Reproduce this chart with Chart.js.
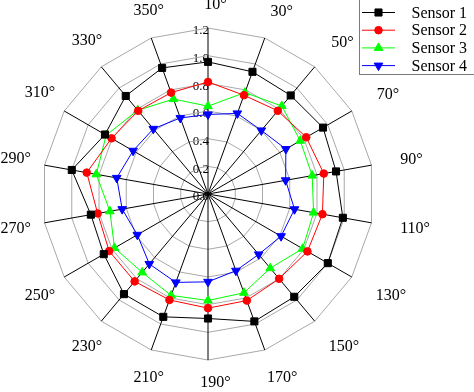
<!DOCTYPE html>
<html>
<head>
<meta charset="utf-8">
<script src="https://cdn.jsdelivr.net/npm/chart.js@4.4.1/dist/chart.umd.min.js"></script>
<style>
html, body { margin: 0; padding: 0; background: #fff; }
#wrap { width: 474px; height: 392px; position: relative; }
</style>
</head>
<body>
<div id="wrap"><canvas id="sensorRadar"></canvas></div>
<script>
const angleLabels = ["10°", "30°", "50°", "70°", "90°", "110°", "130°", "150°", "170°",
                     "190°", "210°", "230°", "250°", "270°", "290°", "310°", "330°", "350°"];

const sensor1 = [0.955, 0.94, 0.93, 0.96, 0.94, 0.99, 1.00, 0.97, 0.98,
                 0.90, 0.945, 0.945, 0.87, 0.86, 1.00, 0.86, 0.925, 0.97];
const sensor2 = [0.81, 0.76, 0.785, 0.82, 0.85, 0.84, 0.83, 0.80, 0.82,
                 0.825, 0.815, 0.825, 0.825, 0.81, 0.89, 0.805, 0.785, 0.78];
const sensor3 = [0.635, 0.78, 0.83, 0.77, 0.765, 0.775, 0.79, 0.70, 0.76,
                 0.77, 0.78, 0.74, 0.78, 0.72, 0.82, 0.85, 0.79, 0.73];
const sensor4 = [0.575, 0.62, 0.60, 0.65, 0.57, 0.635, 0.61, 0.57, 0.59,
                 0.635, 0.68, 0.66, 0.59, 0.63, 0.67, 0.625, 0.615, 0.585];

const tickValues = [0, 0.2, 0.4, 0.6, 0.8, 1.0, 1.2];
const tickLabels = ["0.0", "0.2", "0.4", "0.6", "0.8", "1.0", "1.2"];

const serif = "'Liberation Serif', 'Times New Roman', serif";

// tick labels sit under the spokes, right-aligned on the vertical axis
const tickLabelPlugin = {
    id: "tickLabels",
    beforeDraw(chart) {
        const r = chart.scales.r;
        const ctx = chart.ctx;
        ctx.save();
        ctx.font = "13px " + serif;
        ctx.fillStyle = "#000";
        ctx.textAlign = "right";
        ctx.textBaseline = "middle";
        tickValues.forEach((v, i) => {
            const d = r.getDistanceFromCenterForValue(v);
            ctx.fillText(tickLabels[i], r.xCenter + 1, r.yCenter - d + 3);
        });
        ctx.restore();
    }
};

// angle labels around the outside, then the boxed legend on top
const outerPlugin = {
    id: "outerLabels",
    afterDraw(chart) {
        const r = chart.scales.r;
        const ctx = chart.ctx;
        ctx.save();
        ctx.font = "16px " + serif;
        ctx.fillStyle = "#000";
        ctx.textAlign = "center";
        ctx.textBaseline = "middle";
        angleLabels.forEach((lab, i) => {
            const a = r.getIndexAngle(i);
            const s = Math.abs(Math.sin(a));
            const c = Math.abs(Math.cos(a));
            const w = ctx.measureText(lab).width;
            const dist = r.drawingArea + 17 + 4 * s + (w / 2) * s + 6 * c;
            const p = r.getPointPosition(i, dist);
            ctx.fillText(lab, p.x + 7.5, p.y);
        });

        // legend
        const box = { left: 359.5, top: -1, right: 480, bottom: 74.5 };
        ctx.fillStyle = "#fff";
        ctx.fillRect(box.left, box.top, box.right - box.left, box.bottom - box.top);
        ctx.strokeStyle = "#7a7a7a";
        ctx.lineWidth = 1;
        ctx.strokeRect(box.left, box.top, box.right - box.left, box.bottom - box.top);

        ctx.textAlign = "left";
        chart.data.datasets.forEach((ds, i) => {
            const y = 12.5 + i * 17.7;
            ctx.strokeStyle = ds.borderColor;
            ctx.lineWidth = 1;
            ctx.beginPath();
            ctx.moveTo(362, y);
            ctx.lineTo(395, y);
            ctx.stroke();
            ctx.fillStyle = ds.pointBackgroundColor;
            ctx.strokeStyle = ds.pointBorderColor;
            Chart.helpers.drawPoint(ctx, {
                pointStyle: ds.pointStyle,
                radius: ds.pointRadius,
                rotation: ds.pointRotation || 0,
                borderWidth: 1
            }, 378.5, y);
            ctx.fillStyle = "#000";
            ctx.fillText(ds.label, 411.5, y + 1);
        });
        ctx.restore();
    }
};

const ctx = document.getElementById("sensorRadar");

new Chart(ctx, {
    type: "radar",
    data: {
        labels: angleLabels,
        datasets: [
            {
                label: "Sensor 1",
                data: sensor1,
                borderColor: "#000000",
                pointBackgroundColor: "#000000",
                pointBorderColor: "#000000",
                pointStyle: "rect",
                pointRadius: 5,
                borderWidth: 1,
                fill: false
            },
            {
                label: "Sensor 2",
                data: sensor2,
                borderColor: "#ff0000",
                pointBackgroundColor: "#ff0000",
                pointBorderColor: "#ff0000",
                pointStyle: "circle",
                pointRadius: 3.8,
                borderWidth: 1,
                fill: false
            },
            {
                label: "Sensor 3",
                data: sensor3,
                borderColor: "#00ff00",
                pointBackgroundColor: "#00ff00",
                pointBorderColor: "#00ff00",
                pointStyle: "triangle",
                pointRadius: 5,
                borderWidth: 1,
                fill: false
            },
            {
                label: "Sensor 4",
                data: sensor4,
                borderColor: "#0000ff",
                pointBackgroundColor: "#0000ff",
                pointBorderColor: "#0000ff",
                pointStyle: "triangle",
                pointRotation: 180,
                pointRadius: 5,
                borderWidth: 1,
                fill: false
            }
        ]
    },
    options: {
        responsive: true,
        maintainAspectRatio: false,
        animation: false,
        layout: {
            padding: { left: 42, top: 28, right: 100, bottom: 32 }
        },
        elements: {
            line: { tension: 0 }
        },
        plugins: {
            legend: { display: false },
            tooltip: { enabled: false }
        },
        scales: {
            r: {
                min: 0,
                max: 1.2,
                ticks: { display: false, stepSize: 0.2 },
                grid: { color: "#a8a8a8", lineWidth: 1, circular: false },
                angleLines: { color: "#000000", lineWidth: 1 },
                pointLabels: { display: false }
            }
        }
    },
    plugins: [tickLabelPlugin, outerPlugin]
});
</script>
</body>
</html>
